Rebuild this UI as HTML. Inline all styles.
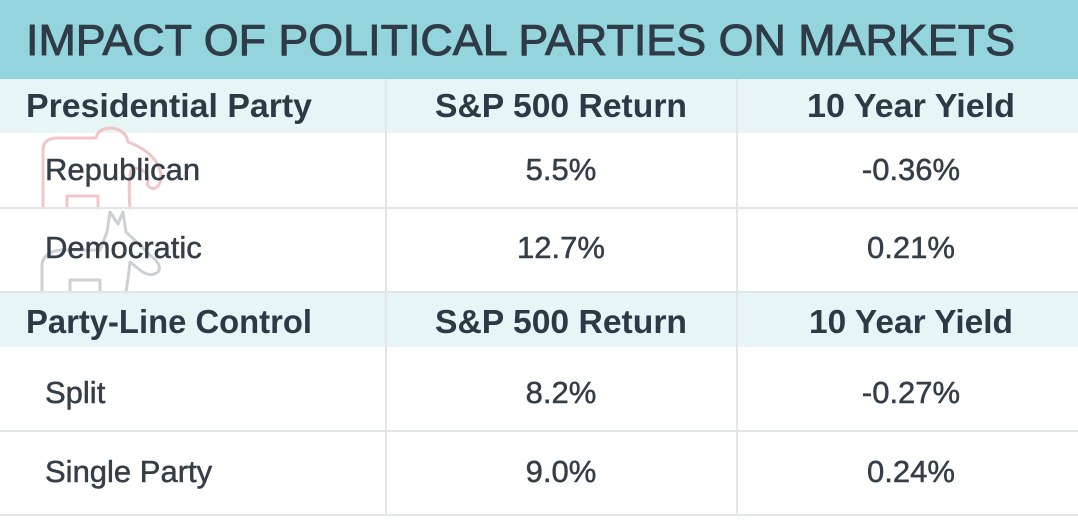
<!DOCTYPE html>
<html>
<head>
<meta charset="utf-8">
<style>
  html, body { margin: 0; padding: 0; background: #ffffff; }
  body { width: 1078px; height: 521px; overflow: hidden; }
  svg { display: block; }
  .t { font-family: "Liberation Sans", sans-serif; fill: #2f3b46; stroke: #2f3b46; stroke-width: 0.9px; }
  .h { font-family: "Liberation Sans", sans-serif; font-weight: bold; font-size: 33px; fill: #2d3945; }
  .b { font-family: "Liberation Sans", sans-serif; font-size: 31px; fill: #343e48; stroke: #343e48; stroke-width: 0.5px; }
</style>
</head>
<body>
<svg width="1078" height="521" viewBox="0 0 1078 521" xmlns="http://www.w3.org/2000/svg">
  <rect x="0" y="0" width="1078" height="521" fill="#ffffff"/>
  <rect x="0" y="0" width="1078" height="79" fill="#94d5dd"/>
  <rect x="0" y="79" width="1078" height="54" fill="#e8f5f7"/>
  <rect x="0" y="292" width="1078" height="55" fill="#e8f5f7"/>

  <g fill="none" stroke="#f0c6c6" stroke-width="3" stroke-linejoin="round" stroke-linecap="round">
    <path d="M43,208 V150 Q43,138 58,138 H96 Q98,128 112,128 Q126,130 128,142 Q150,150 158,165 Q164,178 158,186 Q152,192 147,184 Q150,178 145,172 Q138,166 131,170 Q128,186 130,208"/>
    <path d="M67,208 V196 H98 V208"/>
  </g>
  <g fill="none" stroke="#ccd1d5" stroke-width="3" stroke-linejoin="round" stroke-linecap="round">
    <path d="M42,292 V264 Q44,252 60,250 H100 L107,232 L110,212 L118,224 L123,212 L126,232 Q140,245 150,255 Q163,265 158,272 Q150,278 140,270 L130,262 Q128,280 126,292"/>
    <path d="M70,292 V280 H100 V292"/>
  </g>

  <g stroke="#e3e6e8" stroke-width="2">
    <line x1="0" y1="208" x2="1078" y2="208"/>
    <line x1="0" y1="292" x2="1078" y2="292"/>
    <line x1="0" y1="431" x2="1078" y2="431"/>
    <line x1="0" y1="515" x2="1078" y2="515"/>
    <line x1="386" y1="79" x2="386" y2="515"/>
    <line x1="737" y1="79" x2="737" y2="515"/>
  </g>

  <text class="t" x="26" y="55" font-size="44" textLength="989" lengthAdjust="spacingAndGlyphs">IMPACT OF POLITICAL PARTIES ON MARKETS</text>

  <text class="h" x="26" y="117" textLength="286" lengthAdjust="spacingAndGlyphs">Presidential Party</text>
  <text class="h" x="561" y="117" text-anchor="middle" textLength="252" lengthAdjust="spacingAndGlyphs">S&amp;P 500 Return</text>
  <text class="h" x="911" y="117" text-anchor="middle" textLength="208" lengthAdjust="spacingAndGlyphs">10 Year Yield</text>

  <text class="b" x="45" y="180">Republican</text>
  <text class="b" x="561" y="180" text-anchor="middle">5.5%</text>
  <text class="b" x="911" y="180" text-anchor="middle">-0.36%</text>

  <text class="b" x="45" y="258">Democratic</text>
  <text class="b" x="561" y="258" text-anchor="middle">12.7%</text>
  <text class="b" x="911" y="258" text-anchor="middle">0.21%</text>

  <text class="h" x="26" y="333" textLength="286" lengthAdjust="spacingAndGlyphs">Party-Line Control</text>
  <text class="h" x="561" y="333" text-anchor="middle" textLength="252" lengthAdjust="spacingAndGlyphs">S&amp;P 500 Return</text>
  <text class="h" x="911" y="333" text-anchor="middle" textLength="204" lengthAdjust="spacingAndGlyphs">10 Year Yield</text>

  <text class="b" x="45" y="403">Split</text>
  <text class="b" x="561" y="403" text-anchor="middle">8.2%</text>
  <text class="b" x="911" y="403" text-anchor="middle">-0.27%</text>

  <text class="b" x="45" y="482">Single Party</text>
  <text class="b" x="561" y="482" text-anchor="middle">9.0%</text>
  <text class="b" x="911" y="482" text-anchor="middle">0.24%</text>
</svg>
</body>
</html>
